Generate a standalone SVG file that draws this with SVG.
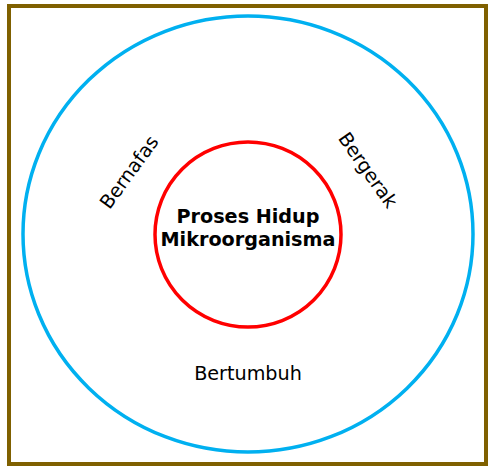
<svg xmlns="http://www.w3.org/2000/svg" width="493" height="468" viewBox="0 0 493 468">
<style>
.t{font-family:"DejaVu Sans",Verdana,sans-serif;font-size:19.2px;fill:#000;text-anchor:middle}
.b{font-weight:bold}
</style>
<rect x="0" y="0" width="493" height="468" fill="#fff"/>
<g id="frame"><rect x="9" y="6" width="477" height="458" fill="none" stroke="#7f6000" stroke-width="4"/></g>
<g id="outer"><ellipse cx="248" cy="234" rx="225" ry="218" fill="none" stroke="#00b0f0" stroke-width="3.5"/></g>
<g id="inner"><ellipse cx="248" cy="234.5" rx="93" ry="92.5" fill="none" stroke="#ff0000" stroke-width="3.5"/></g>
<g id="center-label">
<text class="t b" x="248" y="223">Proses Hidup</text>
<text class="t b" x="248" y="246">Mikroorganisma</text>
</g>
<g id="bernafas"><text class="t" x="0" y="0" dy="0.35em" transform="translate(129,172) rotate(-54)">Bernafas</text></g>
<g id="bergerak"><text class="t" x="0" y="0" dy="0.35em" transform="translate(368,170) rotate(55)">Bergerak</text></g>
<g id="bertumbuh"><text class="t" x="248" y="380">Bertumbuh</text></g>
</svg>
